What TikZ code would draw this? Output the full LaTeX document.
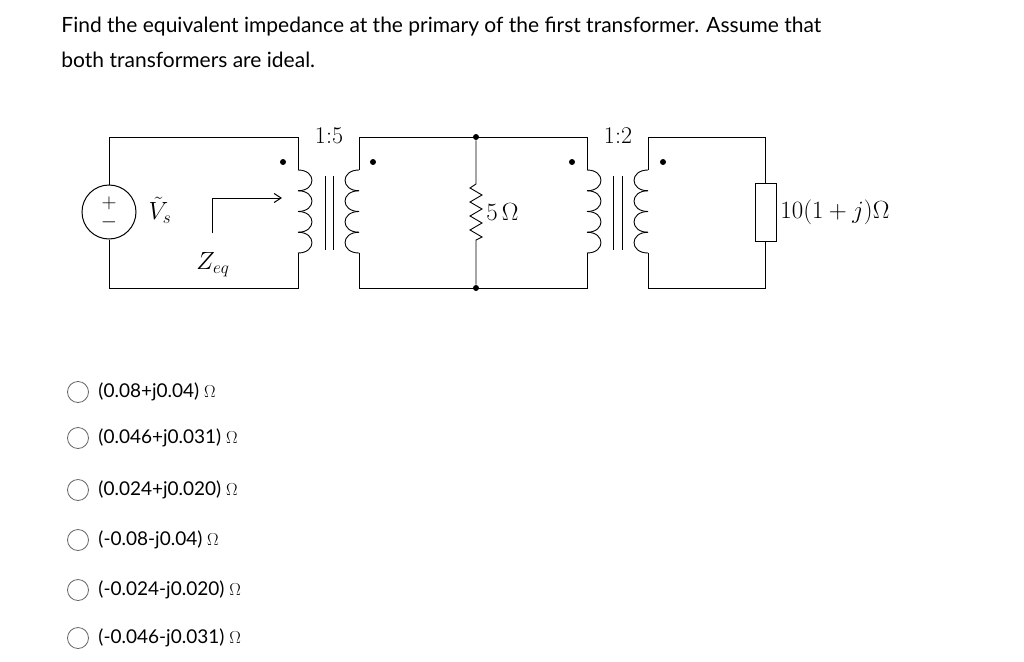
\documentclass[tikz,border=0pt]{standalone}
\usepackage{fontspec}
\setsansfont{Lato}
\usetikzlibrary{arrows.meta}
\begin{document}
\begin{tikzpicture}[x=1pt,y=-1pt,line width=0.9pt,
  wire/.style={draw=black!75},
  dotn/.style={circle,fill=black,inner sep=0pt,minimum size=6pt},
  qtext/.style={font=\sffamily\fontsize{21}{25}\selectfont,anchor=west,inner sep=0pt},
  opt/.style={font=\sffamily\fontsize{19}{23}\selectfont,anchor=west,inner sep=0pt},
  optc/.style={circle,draw=black!60,line width=0.8pt,minimum size=21pt,inner sep=0pt},
  lab/.style={font=\fontsize{24}{28}\selectfont,inner sep=1pt}]
\useasboundingbox (0,0) rectangle (1024,661);
\node[qtext] (q1) at (61,27) {Find the equivalent impedance at the primary of the first transformer. Assume that};
\node[qtext] (q2) at (61,60) {both transformers are ideal.};
% left loop
\coordinate (tl) at (109,137); \coordinate (bl) at (109,288);
\node[circle,draw,line width=1pt,minimum size=54pt,inner sep=0pt] (vs) at (109,212) {};
\node[font=\fontsize{22}{22}\selectfont] at (109,203) {$+$};
\node[font=\fontsize{22}{22}\selectfont] at (109,222) {$-$};
\node[lab] (vsl) at (160,210) {$\tilde V_s$};
\draw (vs.north) -- (tl) -- (298,137) -- (298,170);
\draw (vs.south) -- (bl) -- (298,288) -- (298,253);
% coil macros
\newcommand{\mycoil}[3]{% x, y0, bulge
  \foreach \k in {0,1,2,3}{
    \draw (#1,#2+\k*20.75) .. controls (#1+1.33*#3,#2+\k*20.75) and (#1+1.33*#3,#2+\k*20.75+20.75) .. (#1,#2+\k*20.75+20.75);}}
\mycoil{298}{170}{14}
\mycoil{359}{170}{-14}
\draw (325,176) -- (325,250); \draw (333,176) -- (333,250);
\node[lab] (t1) at (329,136) {1:5};
\node[dotn] at (283,162) {}; \node[dotn] at (373,162) {};
% arrow Zeq
\coordinate (za) at (212,233);
\draw[-{Straight Barb[length=7pt,width=9pt]},line width=1pt] (za) -- (212,198) -- (282,198);
\node[lab] (zeq) at (213,265) {$Z_{eq}$};
% middle loop
\draw (359,170) -- (359,137) -- (587,137) -- (587,170);
\draw (359,253) -- (359,288) -- (587,288) -- (587,253);
\node[dotn] (n1) at (476,137) {}; \node[dotn] (n2) at (476,288) {};
\draw (n1) -- (476,184) -- (470,188) -- (482,195) -- (470,202) -- (482,209) -- (470,216) -- (482,223) -- (470,230) -- (482,237) -- (476,240) -- (n2);
\node[lab,anchor=west] (r5) at (485,212) {$5\,\Omega$};
% second transformer
\mycoil{587}{170}{14}
\mycoil{648}{170}{-14}
\draw (613,176) -- (613,250); \draw (622,176) -- (622,250);
\node[lab] (t2) at (618,136) {1:2};
\node[dotn] at (572,162) {}; \node[dotn] at (663,162) {};
% right loop
\node[draw,line width=1pt,minimum width=21pt,minimum height=58pt,inner sep=0pt] (zl) at (765.5,212) {};
\draw (648,170) -- (648,137) -- (765.5,137) -- (zl.north);
\draw (648,253) -- (648,288) -- (765.5,288) -- (zl.south);
\node[lab,anchor=west] (zll) at (779,212) {$10(1+j)\Omega$};
% options
\foreach \y/\t [count=\i] in {392/(0.08+j0.04) $\Omega$,438/(0.046+j0.031) $\Omega$,490/(0.024+j0.020) $\Omega$,540/(-0.08-j0.04) $\Omega$,590/(-0.024-j0.020) $\Omega$,638/(-0.046-j0.031) $\Omega$}{
  \node[optc] (c\i) at (78,\y) {};
  \node[opt] (o\i) at (98,\y) {\t};}
\end{tikzpicture}
\end{document}
